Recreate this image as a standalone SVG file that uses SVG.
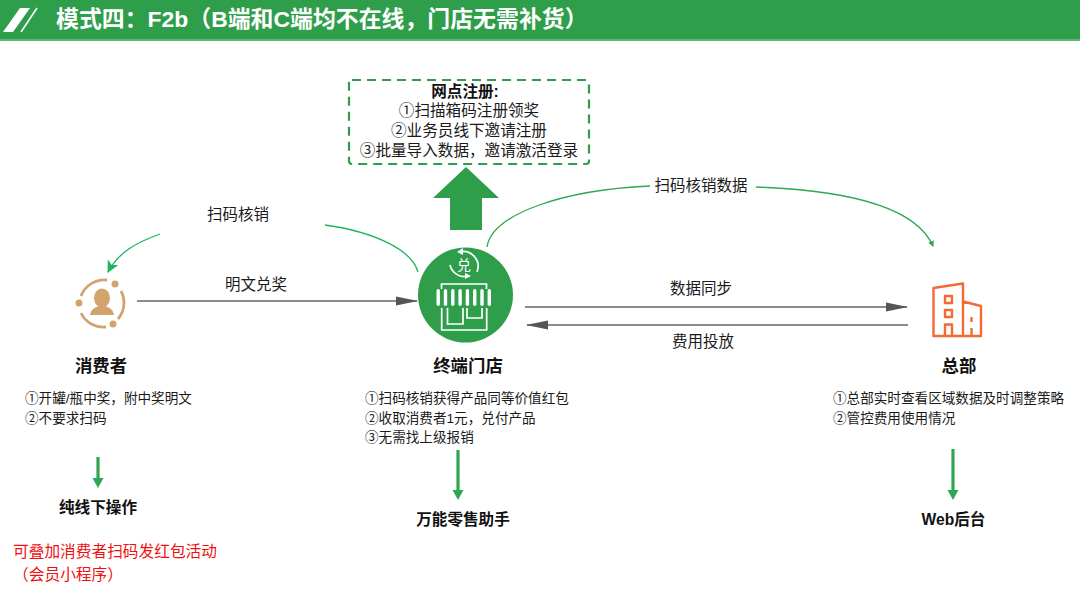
<svg xmlns="http://www.w3.org/2000/svg" width="1080" height="604" viewBox="0 0 1080 604">
<defs>
<marker id="ag" markerUnits="userSpaceOnUse" markerWidth="14" markerHeight="14" refX="11" refY="6" orient="auto"><path d="M0 0L12 6L0 12L3 6Z" fill="#1db45f"/></marker>
<marker id="ag2" markerUnits="userSpaceOnUse" markerWidth="7" markerHeight="7" refX="5" refY="3" orient="auto"><path d="M0 0L6 3L0 6Z" fill="#2fa84f"/></marker>
<marker id="ak" markerUnits="userSpaceOnUse" markerWidth="24" markerHeight="10" refX="21" refY="5" orient="auto"><path d="M0 .5L22 5L0 9.500Z" fill="#555"/></marker>
<marker id="agd" markerUnits="userSpaceOnUse" markerWidth="12" markerHeight="12" refX="0" refY="5.500" orient="auto"><path d="M0 0L10 5.500L0 11Z" fill="#2fa651"/></marker>
</defs>
<style>
text{font-family:"Liberation Sans","Noto Sans CJK SC",sans-serif;fill:#1a1a1a}
.t{font-size:15.5px;text-anchor:middle}
.p{font-size:15.6px;text-anchor:middle;font-weight:bold;fill:#111}
.b{font-size:17.4px;font-weight:bold;text-anchor:middle;fill:#111}
.n{font-size:13.6px}
.box{font-size:15.6px;text-anchor:middle}
.red{font-size:15.7px;text-anchor:middle;fill:#f01010}
.c{fill:none;stroke-width:1.3}
.gl{stroke:#1db45f}
.gr{stroke:#666;stroke-width:1.6;fill:none}
.dn{stroke:#2fa651;stroke-width:3.2;fill:none}
.w{fill:none;stroke:#fff;stroke-width:1.7}
.o{fill:none;stroke:#f26a35;stroke-width:2.4;stroke-linejoin:round}
.tan{fill:none;stroke:#d2a36c;stroke-width:2.8}
</style>
<g id="header">
<rect x="0" y="0" width="1080" height="39" fill="#2e9e4b"/>
<rect x="0" y="39" width="1080" height="2" fill="#5cb873"/>
<path d="M3 32L20 8H30L13 32Z" fill="#fff"/>
<path d="M21 32L37 8" stroke="#fff" stroke-width="1.5" fill="none"/>
<text x="56" y="26.500" font-size="22.900" font-weight="bold" style="fill:#fff">模式四：F2b（B端和C端均不在线，门店无需补货）</text>
</g>
<g id="connectors">
<path class="c gl" d="M160 234C135 243 118 253 108 272" marker-end="url(#ag)"/>
<path class="c gl" d="M325 225C375 232 412 250 418 272"/>
<path class="c" stroke="#2fa84f" stroke-width="1" d="M487 247C492 215 560 190 650 186"/>
<path class="c" stroke="#2fa84f" stroke-width="1" d="M756 187C840 190 915 205 933 246" marker-end="url(#ag2)"/>
<path class="gr" d="M137 301H417" marker-end="url(#ak)"/>
<path class="gr" d="M525 307H907" marker-end="url(#ak)"/>
<path class="gr" d="M908 325H527" stroke="#888" marker-end="url(#ak)"/>
<path d="M466 167L499 198H482V230H450V198H433Z" fill="#2e9e4b"/>
<path class="dn" d="M98 457V478" marker-end="url(#agd)"/>
<path class="dn" d="M458 450V490" marker-end="url(#agd)"/>
<path class="dn" d="M953 449V490" marker-end="url(#agd)"/>
</g>
<g id="register">
<rect x="349" y="80" width="240" height="84" rx="3" fill="none" stroke="#2e9e4b" stroke-width="2.2" stroke-dasharray="9 6"/>
<text class="box" x="465" y="97" font-weight="bold" style="fill:#111">网点注册:</text>
<text class="box" x="469" y="116">①扫描箱码注册领奖</text>
<text class="box" x="469" y="136">②业务员线下邀请注册</text>
<text class="box" x="469" y="156">③批量导入数据，邀请激活登录</text>
</g>
<g id="consumer">
<path class="tan" d="M81 296A25 25 0 0 1 107 280M121 291A25 25 0 0 1 118 319M106 327A25 25 0 0 1 81 313"/>
<circle cx="115" cy="284" r="3.500" fill="#d2a36c"/><circle cx="79" cy="303" r="3.500" fill="#d2a36c"/><circle cx="113" cy="324" r="3.500" fill="#d2a36c"/>
<ellipse cx="102" cy="298" rx="8" ry="9.500" fill="#d2a36c"/>
<path d="M90 315C91 309 96 306 102 306C108 306 113 309 114 315Z" fill="#d2a36c"/>
<text class="b" x="101" y="372">消费者</text>
<text class="n" x="25" y="403">①开罐/瓶中奖，附中奖明文</text>
<text class="n" x="25" y="423">②不要求扫码</text>
<text class="p" x="98" y="513">纯线下操作</text>
<text class="red" x="115" y="557">可叠加消费者扫码发红包活动</text>
<text class="red" x="68" y="580">（会员小程序）</text>
</g>
<g id="store">
<circle cx="465.500" cy="295" r="47.500" fill="#2e9e4b"/>
<path class="w" d="M459 252A15 15 0 0 1 477 272M469 276A15 15 0 0 1 450 265"/>
<path d="M457 252L463 248V255Z" fill="#fff"/><path d="M471 276L465 273V279Z" fill="#fff"/>
<text x="464" y="269.500" font-size="14" text-anchor="middle" style="fill:#fff">兑</text>
<path class="w" d="M441.500 289V284H486.500V289"/>
<g fill="#fff"><rect x="436.500" y="289" width="3.400" height="17" rx="1.700"/><rect x="443.800" y="289" width="3.400" height="17" rx="1.700"/><rect x="451.100" y="289" width="3.400" height="17" rx="1.700"/><rect x="458.400" y="289" width="3.400" height="17" rx="1.700"/><rect x="465.700" y="289" width="3.400" height="17" rx="1.700"/><rect x="473" y="289" width="3.400" height="17" rx="1.700"/><rect x="480.300" y="289" width="3.400" height="17" rx="1.700"/><rect x="487.600" y="289" width="3.400" height="17" rx="1.700"/></g>
<path class="w" d="M441.700 308V330H486.700V308M447.500 308V324H463V308M467 308V318H482V308"/>
<text class="b" x="468" y="372">终端门店</text>
<text class="n" x="365" y="403">①扫码核销获得产品同等价值红包</text>
<text class="n" x="365" y="423">②收取消费者1元，兑付产品</text>
<text class="n" x="365" y="442">③无需找上级报销</text>
<text class="p" x="463" y="525">万能零售助手</text>
</g>
<g id="hq">
<path class="o" d="M933.500 336V288L963 283.500V336ZM963 301.500L981 306V336H933.500M945 296h7v7h-7zM945 310h7v7h-7zM945 336V324.500h7V336M971.500 317v5M971.500 328v7"/>
<text class="b" x="959" y="372">总部</text>
<text class="n" x="833" y="403">①总部实时查看区域数据及时调整策略</text>
<text class="n" x="833" y="423">②管控费用使用情况</text>
<text class="p" x="953.500" y="525">Web后台</text>
</g>
<g id="labels">
<text class="t" x="238" y="220">扫码核销</text>
<text class="t" x="256" y="290">明文兑奖</text>
<text class="t" x="701" y="191">扫码核销数据</text>
<text class="t" x="701" y="294">数据同步</text>
<text class="t" x="703" y="347">费用投放</text>
</g>
</svg>
